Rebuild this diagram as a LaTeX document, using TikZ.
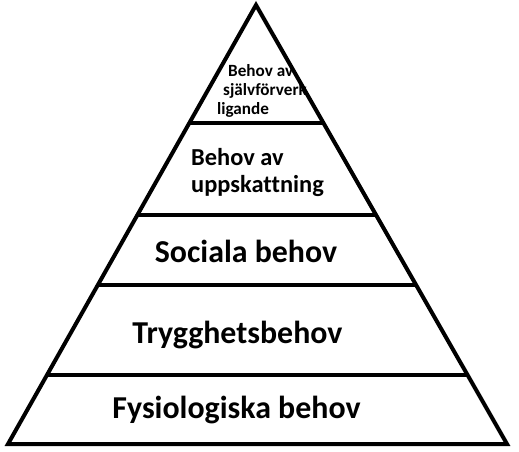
\documentclass[tikz,border=0pt]{standalone}
\usepackage{fontspec}
\setmainfont{Carlito}[Ligatures={NoCommon,NoRare}]
\usetikzlibrary{calc}
\tikzset{
  edge/.style={line width=4bp, line join=miter},
  big/.style={font=\fontsize{32}{38}\selectfont\bfseries, inner sep=0pt, anchor=base},
  mid/.style={font=\fontsize{24.5}{29}\selectfont\bfseries, inner sep=0pt, anchor=base west},
  small/.style={font=\fontsize{17.2}{20}\selectfont\bfseries, inner sep=0pt, anchor=base west}
}
\begin{document}
\begin{tikzpicture}[x=1bp,y=-1bp]
\useasboundingbox[fill=white] (0,0) rectangle (519,452);
\coordinate (A) at (256,5);
\coordinate (L) at (8,444);
\coordinate (R) at (507,444);
\draw[edge] (A) -- (R) -- (L) -- cycle;
\foreach \n/\yy in {l1/123, l2/215, l3/285, l4/375}{
  \pgfmathsetmacro{\t}{(\yy-5)/439}
  \coordinate (\n a) at ($(A)!\t!(L)$);
  \coordinate (\n b) at ($(A)!\t!(R)$);
  \draw[edge] (\n a) -- (\n b);
}
\node[small] (t1) at (228,77) {Behov av};
\node[small] (t2) at (223,96) {självförverk};
\node[small] (t3) at (217,115) {ligande};
\node[mid] (m1) at (191,166) {Behov av};
\node[mid] (m2) at (191,193) {uppskattning};
\node[big] (s) at (246,262) {Sociala behov};
\node[big] (tr) at (237.5,343) {Trygghetsbehov};
\node[big] (f) at (236.5,418) {Fysiologiska behov};
\end{tikzpicture}
\end{document}
